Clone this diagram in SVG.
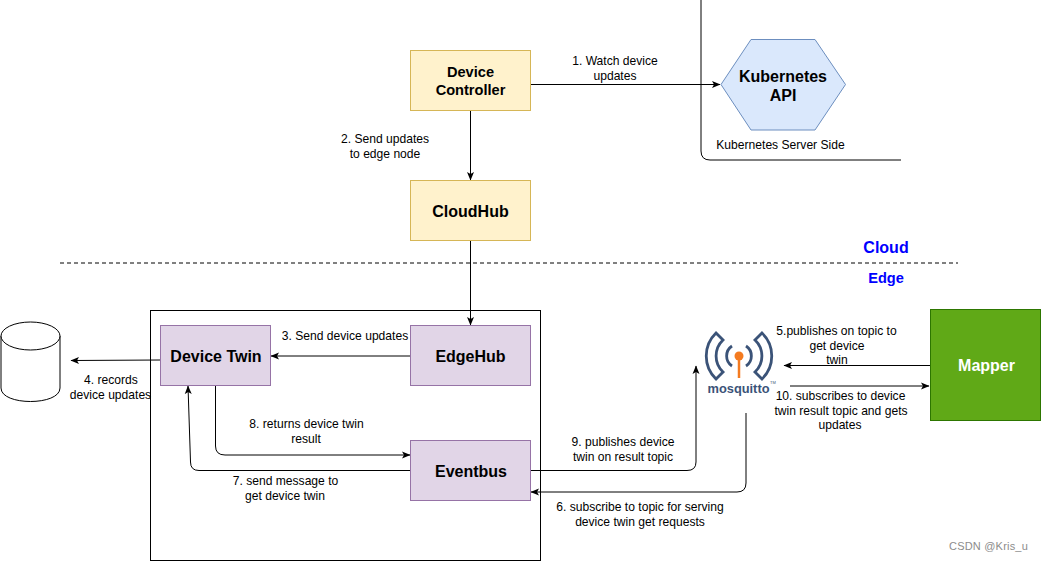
<svg xmlns="http://www.w3.org/2000/svg" width="1041" height="561" viewBox="0 0 1041 561">
<style>
text{font-family:"Liberation Sans",Arial,sans-serif;text-anchor:middle;fill:#000}
.l{font-size:12.100px}
.b{font-size:16px;font-weight:bold}
.m{font-size:14.600px;font-weight:bold}
.c{fill:none;stroke:#000;stroke-width:1}
.y{fill:#fff2cc;stroke:#d6b656}
.p{fill:#e1d5e7;stroke:#9673a6}
</style>
<defs><marker id="a" markerWidth="10" markerHeight="10" refX="8" refY="4" orient="auto" markerUnits="userSpaceOnUse"><path d="M0 .5L8.500 4L0 7.500L2 4Z" fill="#000"/></marker></defs>
<rect width="1041" height="561" fill="#fff"/>
<g id="regions">
<path class="c" d="M701 0V151Q701 160 710 160H901"/>
<rect x="150.500" y="310.500" width="390" height="250" fill="none" stroke="#000"/>
<path d="M60 263H958" fill="none" stroke="#000" stroke-dasharray="4 3"/>
</g>
<g id="connectors">
<path class="c" marker-end="url(#a)" d="M531 84.500H720"/>
<path class="c" marker-end="url(#a)" d="M470.500 110V180"/>
<path class="c" marker-end="url(#a)" d="M470.500 240V325"/>
<path class="c" marker-end="url(#a)" d="M410 356H271"/>
<path class="c" marker-end="url(#a)" d="M160 360L71 360.500"/>
<path class="c" marker-end="url(#a)" d="M215.500 386V446Q215.500 455 225 455H410"/>
<path class="c" marker-end="url(#a)" d="M410 470.500H199Q190.500 470.500 190.500 462L188 386"/>
<path class="c" marker-end="url(#a)" d="M531 470.500H687Q696 470.500 696 462V366"/>
<path class="c" marker-end="url(#a)" d="M746 413V483Q746 492 737 492H531"/>
<path class="c" marker-end="url(#a)" d="M930 365.500H784"/>
<path class="c" marker-end="url(#a)" d="M790 386H929"/>
</g>
<g id="device-controller"><rect class="y" x="410.500" y="50.500" width="120" height="60"/><text class="m" x="470.500" y="77">Device</text><text class="m" x="470.500" y="95">Controller</text></g>
<g id="kubernetes-api"><path d="M721 84.500L751 39.500H815L845.500 84.500L815 130H751Z" fill="#dae8fc" stroke="#6c8ebf"/><text class="b" x="783" y="82">Kubernetes</text><text class="b" x="783" y="101">API</text></g>
<g id="cloudhub"><rect class="y" x="410.500" y="180.500" width="120" height="60"/><text class="b" x="470.500" y="216.500">CloudHub</text></g>
<g id="device-twin"><rect class="p" x="160.500" y="325.500" width="110" height="60"/><text class="b" x="216" y="361.500">Device Twin</text></g>
<g id="edgehub"><rect class="p" x="410.500" y="325.500" width="120" height="60"/><text class="b" x="470.500" y="361.500">EdgeHub</text></g>
<g id="eventbus"><rect class="p" x="410.500" y="440.500" width="120" height="60"/><text class="b" x="471" y="476.500">Eventbus</text></g>
<g id="mapper"><rect x="930.500" y="309.500" width="110" height="111" fill="#60a917" stroke="#2d7600"/><text class="b" x="986.500" y="371" style="fill:#fff">Mapper</text></g>
<g id="database"><path d="M1 336V388C1 406 60 406 60 388V336" fill="#fff" stroke="#000"/><ellipse cx="30.500" cy="336" rx="29.500" ry="14" fill="#fff" stroke="#000"/></g>
<g id="mosquitto">
<g fill="none" stroke="#3b5378" stroke-width="2.800">
<path d="M716 333A32 32 0 0 0 716 379L723 372A22 22 0 0 1 723 340Z"/>
<path d="M762 333A32 32 0 0 1 762 379L755 372A22 22 0 0 0 755 340Z"/>
<path d="M732 346A12 12 0 0 0 732 366M746 346A12 12 0 0 1 746 366"/>
</g>
<circle cx="739" cy="356" r="4.500" fill="#f47b20"/><path d="M739 359V378" stroke="#f47b20" stroke-width="2.500"/>
<text x="738.500" y="393" textLength="62" lengthAdjust="spacingAndGlyphs" style="font-size:13px;font-weight:bold;fill:#3b5378">mosquitto</text>
<text x="773" y="384" style="font-size:4px;fill:#3b5378">TM</text>
</g>
<g id="labels">
<text class="l" x="615" y="65">1. Watch device</text><text class="l" x="615" y="80">updates</text>
<text class="l" x="385" y="143">2. Send updates</text><text class="l" x="385" y="158">to edge node</text>
<text class="l" x="780.500" y="149">Kubernetes Server Side</text>
<text class="l" x="345" y="340">3. Send device updates</text>
<text class="l" x="111" y="384">4. records</text><text class="l" x="110.500" y="399">device updates</text>
<text class="l" x="836.500" y="335">5.publishes on topic to</text><text class="l" x="837" y="350">get device</text><text class="l" x="837" y="364">twin</text>
<text class="l" x="640" y="511">6. subscribe to topic for serving</text><text class="l" x="640" y="526">device twin get requests</text>
<text class="l" x="285.500" y="485">7. send message to</text><text class="l" x="285" y="500">get device twin</text>
<text class="l" x="306.500" y="428">8. returns device twin</text><text class="l" x="306" y="443">result</text>
<text class="l" x="623" y="446">9. publishes device</text><text class="l" x="623" y="461">twin on result topic</text>
<text class="l" x="840.500" y="400">10. subscribes to device</text><text class="l" x="841" y="415">twin result topic and gets</text><text class="l" x="840" y="429">updates</text>
<text x="886" y="253" style="font-size:16px;font-weight:bold;fill:#0000ff">Cloud</text>
<text x="886" y="283" style="font-size:14.600px;font-weight:bold;fill:#0000ff">Edge</text>
<text x="988.500" y="550" style="font-size:11px;fill:#8c8c8c;letter-spacing:.2px">CSDN @Kris_u</text>
</g>
</svg>
